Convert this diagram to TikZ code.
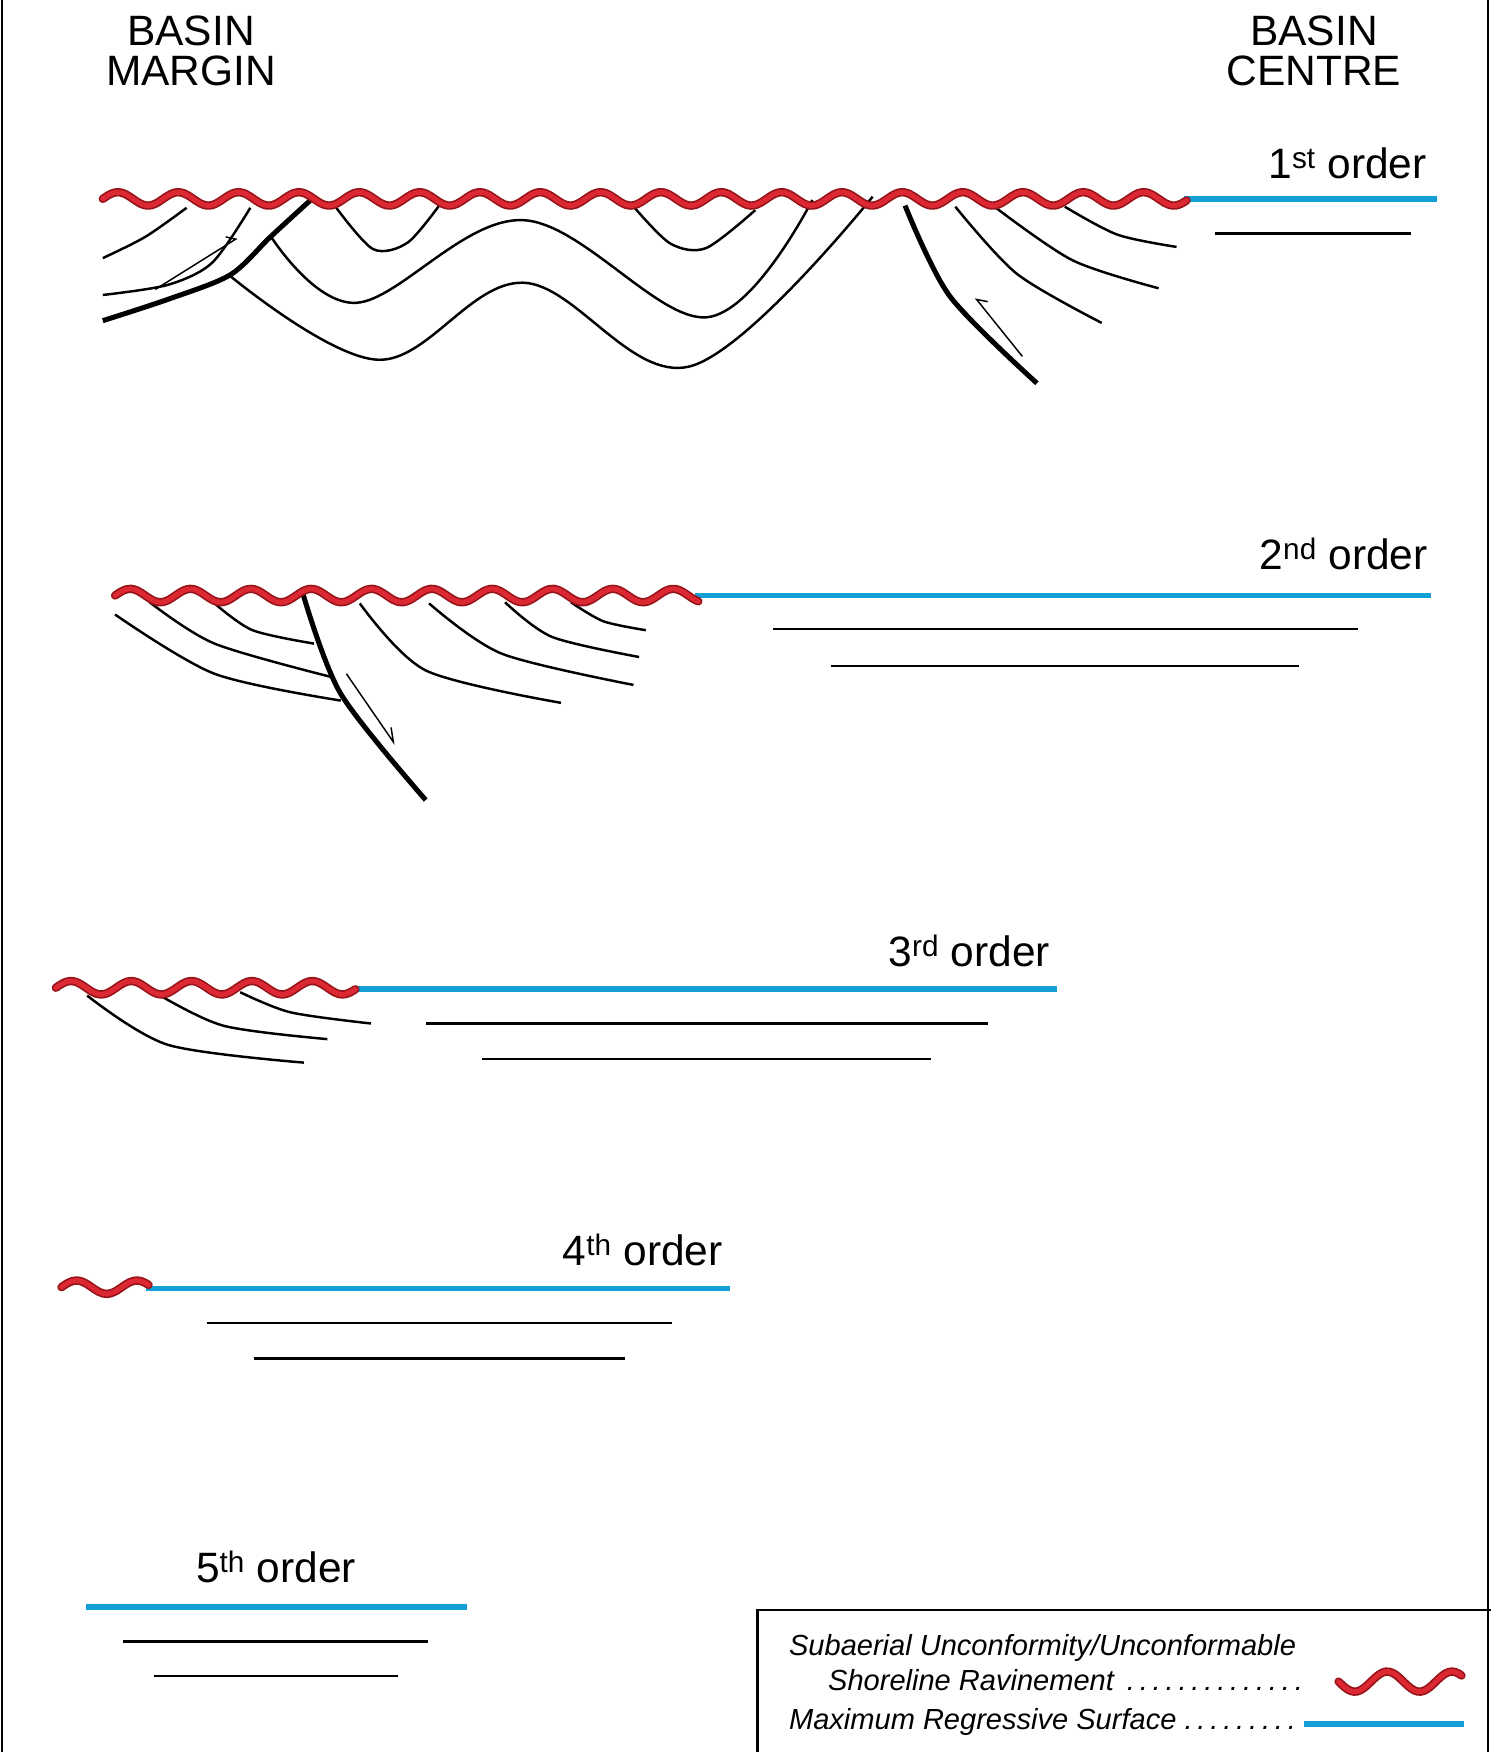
\documentclass[tikz,border=0pt]{standalone}
\usepackage{fontspec}
\setmainfont{Liberation Sans}
\definecolor{wred}{RGB}{220,40,50}
\definecolor{wdark}{RGB}{150,20,25}
\definecolor{mrs}{RGB}{20,160,215}
\tikzset{
  wvo/.style={draw=wdark,line width=7.5pt,line cap=round},
  wvi/.style={draw=wred,line width=4.5pt,line cap=round},
  mrsl/.style={draw=mrs,line width=5pt},
  bed/.style={draw=black,line width=2.2pt},
  flt/.style={draw=black,line width=4.5pt},
  harr/.style={draw=black,line width=1.3pt},
  lbl/.style={font=\fontsize{38}{40}\selectfont,inner sep=0pt},
  leg/.style={font=\fontsize{26}{30}\selectfont\itshape,inner sep=0pt}
}
\newcommand\wavyline[5]{%
 \draw[wvo] plot[domain=#1:#2,samples=#4,smooth] (\x,{#3-#5*sin((\x-#1)/54*360)});
 \draw[wvi] plot[domain=#1:#2,samples=#4,smooth] (\x,{#3-#5*sin((\x-#1)/54*360)});}
\begin{document}
\begin{tikzpicture}[x=1pt,y=-1pt]
\useasboundingbox (0,0) rectangle (1334,1568);
\draw[line width=2pt] (2,0)--(2,1568);
\draw[line width=2pt] (1332,0)--(1332,1568);
% headers
\node[lbl,align=center,anchor=north] (bm) at (171,14) {BASIN\\[-4pt]MARGIN};
\node[lbl,align=center,anchor=north] (bc) at (1176,14) {BASIN\\[-4pt]CENTRE};
% ---------- 1st order
\node[lbl,anchor=base east] (o1) at (1277,160) {1\textsuperscript{st} order};
\draw[mrsl] (1060,178)--(1286,178);
\draw[bed] (1087,209)--(1263,209);
\draw[bed] plot[smooth] coordinates {(167,186)(130,212)(92,231)};
\draw[bed] plot[smooth] coordinates {(224,186)(190,235)(150,255)(92,264)};
\draw[flt] plot[smooth] coordinates {(278,179)(242,212)(206,246)(150,268)(92,287)};
\draw[harr] (139,259)--(211,214)--(202,212);
\draw[bed] plot[smooth,tension=0.6] coordinates {(242,211)(319,271)(468,197)(632,284)(727,179)};
\draw[bed] plot[smooth,tension=0.6] coordinates {(206,247)(339,322)(468,253)(617,328)(781,176)};
\draw[bed] plot[smooth] coordinates {(301,186)(334,223)(365,217)(396,180)};
\draw[bed] plot[smooth] coordinates {(568,186)(600,218)(632,222)(676,188)};
\draw[flt] plot[smooth] coordinates {(810,184)(850,265)(928,343)};
\draw[harr] (915,319)--(874,268)--(884,270);
\draw[bed] plot[smooth] coordinates {(855,185)(910,245)(986,289)};
\draw[bed] plot[smooth] coordinates {(890,185)(960,233)(1037,258)};
\draw[bed] plot[smooth] coordinates {(953,185)(1000,210)(1053,221)};
\wavyline{92}{1062}{178}{200}{6}
% ---------- 2nd order
\node[lbl,anchor=base east] (o2) at (1278,510) {2\textsuperscript{nd} order};
\draw[mrsl] (622,533)--(1281,533);
\draw[bed] (692,563)--(1215,563);
\draw[bed] (744,596)--(1163,596);
\draw[bed] plot[smooth] coordinates {(103,550)(192,603)(305,627)};
\draw[bed] plot[smooth] coordinates {(134,539)(192,576)(297,606)};
\draw[bed] plot[smooth] coordinates {(192,540)(226,564)(281,576)};
\draw[bed] plot[smooth] coordinates {(322,540)(381,600)(502,629)};
\draw[bed] plot[smooth] coordinates {(384,540)(449,585)(567,613)};
\draw[bed] plot[smooth] coordinates {(452,539)(494,570)(572,588)};
\draw[bed] plot[smooth] coordinates {(511,539)(540,556)(578,564)};
\draw[flt] plot[smooth] coordinates {(271,531)(305,621)(381,716)};
\draw[harr] (310,603)--(352,664)--(350,651);
\wavyline{103}{625}{533}{110}{6}
% ---------- 3rd order
\node[lbl,anchor=base east] (o3) at (940,865) {3\textsuperscript{rd} order};
\draw[mrsl] (316,885)--(946,885);
\draw[bed] (381,916)--(884,916);
\draw[bed] (431,948)--(833,948);
\draw[bed] plot[smooth] coordinates {(78,891)(150,935)(272,951)};
\draw[bed] plot[smooth] coordinates {(140,889)(200,918)(293,930)};
\draw[bed] plot[smooth] coordinates {(215,888)(260,906)(332,916)};
\wavyline{50}{318}{884}{60}{6}
% ---------- 4th order
\node[lbl,anchor=base east] (o4) at (647,1133) {4\textsuperscript{th} order};
\draw[mrsl] (131,1153)--(653,1153);
\draw[bed] (185,1184)--(601,1184);
\draw[bed] (227,1216)--(559,1216);
\wavyline{55}{133}{1152}{24}{6}
% ---------- 5th order
\node[lbl,anchor=base] (o5) at (247,1416) {5\textsuperscript{th} order};
\draw[mrsl] (77,1438)--(418,1438);
\draw[bed] (110,1469)--(383,1469);
\draw[bed] (138,1500)--(356,1500);
% ---------- legend
\draw[line width=2pt] (678,1568)--(678,1441)--(1334,1441);
\node[leg,anchor=base west] (l1) at (706,1482) {Subaerial Unconformity/Unconformable};
\node[leg,anchor=base west] (l2) at (741,1513) {Shoreline Ravinement \,.\,.\,.\,.\,.\,.\,.\,.\,.\,.\,.\,.\,.\,.};
\node[leg,anchor=base west] (l3) at (706,1548) {Maximum Regressive Surface .\,.\,.\,.\,.\,.\,.\,.\,.};
\draw[wvo] plot[domain=1198:1308,samples=40,smooth] (\x,{1505+9*sin((\x-1198)/58*360)});
\draw[wvi] plot[domain=1198:1308,samples=40,smooth] (\x,{1505+9*sin((\x-1198)/58*360)});
\draw[mrsl] (1167,1543)--(1310,1543);
\end{tikzpicture}
\end{document}
